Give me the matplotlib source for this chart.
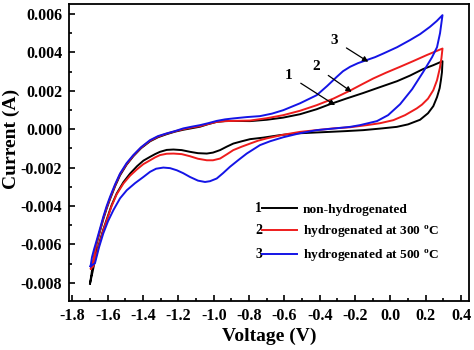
import matplotlib
matplotlib.use("Agg")
import matplotlib.pyplot as plt
from matplotlib.ticker import MultipleLocator, FormatStrFormatter

plt.rcParams['font.family'] = ['Liberation Serif', 'DejaVu Serif']
plt.rcParams['font.weight'] = 'bold'
plt.rcParams['axes.unicode_minus'] = False
plt.rcParams['mathtext.fontset'] = 'custom'
plt.rcParams['mathtext.rm'] = 'Liberation Serif'
plt.rcParams['mathtext.bf'] = 'Liberation Serif:bold'

# ---- data (Voltage V, Current A): forward scan (-1.7 -> 0.3 V) then reverse scan ----
black_fwd_v = [-1.700, -1.691, -1.683, -1.673, -1.662, -1.643, -1.625, -1.606, -1.587, -1.558, -1.530, -1.493, -1.455, -1.411, -1.360, -1.315, -1.266, -1.219, -1.172, -1.124, -1.077, -1.032, -0.983, -0.936, -0.889, -0.794, -0.700, -0.608, -0.511, -0.417, -0.342, -0.251, -0.155, -0.059, 0.038, 0.111, 0.185, 0.242, 0.295]
black_fwd_i = [-0.00804, -0.00750, -0.00698, -0.00646, -0.00594, -0.00529, -0.00469, -0.00414, -0.00365, -0.00297, -0.00240, -0.00185, -0.00141, -0.00099, -0.00063, -0.00042, -0.00026, -0.00013, -0.00003, 0.00005, 0.00013, 0.00026, 0.00038, 0.00042, 0.00043, 0.00042, 0.00049, 0.00060, 0.00078, 0.00104, 0.00130, 0.00159, 0.00188, 0.00219, 0.00250, 0.00279, 0.00313, 0.00333, 0.00354]
black_rev_v = [0.292, 0.286, 0.279, 0.264, 0.243, 0.213, 0.168, 0.100, 0.036, -0.059, -0.153, -0.251, -0.342, -0.438, -0.530, -0.625, -0.719, -0.794, -0.841, -0.889, -0.926, -0.964, -1.004, -1.039, -1.089, -1.134, -1.181, -1.228, -1.266, -1.304, -1.332, -1.360, -1.398, -1.434, -1.473, -1.511, -1.549, -1.578, -1.605, -1.626, -1.643, -1.660, -1.672, -1.686, -1.700]
black_rev_i = [0.00297, 0.00255, 0.00214, 0.00167, 0.00120, 0.00083, 0.00049, 0.00025, 0.00012, 0.00003, -0.00005, -0.00010, -0.00014, -0.00018, -0.00022, -0.00031, -0.00044, -0.00052, -0.00063, -0.00075, -0.00091, -0.00109, -0.00122, -0.00127, -0.00125, -0.00118, -0.00109, -0.00106, -0.00108, -0.00118, -0.00130, -0.00144, -0.00164, -0.00193, -0.00231, -0.00276, -0.00335, -0.00396, -0.00469, -0.00526, -0.00578, -0.00636, -0.00683, -0.00745, -0.00804]

red_fwd_v = [-1.695, -1.680, -1.662, -1.643, -1.625, -1.606, -1.587, -1.558, -1.530, -1.493, -1.455, -1.411, -1.360, -1.315, -1.266, -1.219, -1.172, -1.124, -1.077, -1.032, -0.983, -0.936, -0.889, -0.794, -0.700, -0.606, -0.511, -0.417, -0.323, -0.228, -0.160, -0.097, -0.025, 0.055, 0.128, 0.206, 0.253, 0.295]
red_fwd_i = [-0.00726, -0.00677, -0.00589, -0.00526, -0.00464, -0.00409, -0.00360, -0.00292, -0.00234, -0.00182, -0.00138, -0.00096, -0.00060, -0.00039, -0.00023, -0.00011, 0.00000, 0.00009, 0.00016, 0.00027, 0.00038, 0.00042, 0.00043, 0.00045, 0.00057, 0.00073, 0.00096, 0.00125, 0.00159, 0.00201, 0.00234, 0.00264, 0.00294, 0.00325, 0.00354, 0.00386, 0.00404, 0.00420]
red_rev_v = [0.289, 0.280, 0.264, 0.243, 0.213, 0.179, 0.149, 0.083, 0.017, -0.059, -0.134, -0.228, -0.323, -0.417, -0.511, -0.606, -0.700, -0.749, -0.794, -0.841, -0.889, -0.924, -0.964, -1.004, -1.039, -1.089, -1.134, -1.181, -1.228, -1.266, -1.304, -1.332, -1.360, -1.398, -1.434, -1.473, -1.511, -1.549, -1.578, -1.605, -1.626, -1.643, -1.663, -1.681, -1.695]
red_rev_i = [0.00370, 0.00318, 0.00255, 0.00203, 0.00159, 0.00128, 0.00108, 0.00073, 0.00047, 0.00031, 0.00021, 0.00010, 0.00004, -0.00005, -0.00014, -0.00029, -0.00048, -0.00060, -0.00075, -0.00091, -0.00109, -0.00130, -0.00153, -0.00162, -0.00162, -0.00154, -0.00141, -0.00130, -0.00127, -0.00128, -0.00135, -0.00147, -0.00162, -0.00182, -0.00209, -0.00242, -0.00283, -0.00339, -0.00401, -0.00474, -0.00531, -0.00584, -0.00651, -0.00714, -0.00726]

blue_fwd_v = [-1.697, -1.689, -1.677, -1.662, -1.643, -1.625, -1.606, -1.587, -1.558, -1.530, -1.493, -1.455, -1.411, -1.360, -1.315, -1.266, -1.219, -1.172, -1.124, -1.077, -1.032, -0.983, -0.936, -0.889, -0.813, -0.738, -0.670, -0.606, -0.511, -0.417, -0.359, -0.304, -0.268, -0.228, -0.183, -0.134, -0.087, -0.040, 0.038, 0.111, 0.168, 0.224, 0.262, 0.295]
blue_fwd_i = [-0.00714, -0.00667, -0.00625, -0.00578, -0.00516, -0.00457, -0.00401, -0.00353, -0.00287, -0.00231, -0.00177, -0.00135, -0.00094, -0.00057, -0.00036, -0.00022, -0.00010, 0.00004, 0.00013, 0.00021, 0.00031, 0.00043, 0.00051, 0.00056, 0.00063, 0.00068, 0.00081, 0.00099, 0.00135, 0.00177, 0.00224, 0.00272, 0.00302, 0.00325, 0.00344, 0.00360, 0.00375, 0.00394, 0.00427, 0.00464, 0.00495, 0.00533, 0.00563, 0.00594]
blue_rev_v = [0.281, 0.264, 0.236, 0.185, 0.123, 0.055, -0.013, -0.076, -0.172, -0.228, -0.325, -0.417, -0.511, -0.606, -0.681, -0.738, -0.813, -0.862, -0.908, -0.947, -0.983, -1.021, -1.049, -1.089, -1.134, -1.173, -1.209, -1.247, -1.285, -1.326, -1.360, -1.398, -1.445, -1.492, -1.530, -1.568, -1.598, -1.625, -1.649, -1.672, -1.697]
blue_rev_i = [0.00500, 0.00427, 0.00375, 0.00297, 0.00208, 0.00130, 0.00073, 0.00042, 0.00021, 0.00012, 0.00003, -0.00005, -0.00021, -0.00042, -0.00063, -0.00083, -0.00127, -0.00162, -0.00196, -0.00229, -0.00257, -0.00271, -0.00275, -0.00268, -0.00249, -0.00229, -0.00214, -0.00203, -0.00200, -0.00206, -0.00222, -0.00249, -0.00281, -0.00318, -0.00360, -0.00422, -0.00479, -0.00543, -0.00615, -0.00698, -0.00714]

labels = ['non-hydrogenated', 'hydrogenated at 300 $^{\\mathbf{o}}$C', 'hydrogenated at 500 $^{\\mathbf{o}}$C']
numbers = ['1', '2', '3']
colors = ['black', '#ee1c1c', '#1414e6']

x_ticks = [-1.8, -1.6, -1.4, -1.2, -1.0, -0.8, -0.6, -0.4, -0.2, 0.0, 0.2, 0.4]
y_ticks = [-0.008, -0.006, -0.004, -0.002, 0.000, 0.002, 0.004, 0.006]

fig = plt.figure(figsize=(4.74, 3.5), dpi=100)
ax = fig.add_axes([69/474, 1-301/350, 400/474, 297/350])

series = [(black_fwd_v + black_rev_v, black_fwd_i + black_rev_i),
          (red_fwd_v + red_rev_v, red_fwd_i + red_rev_i),
          (blue_fwd_v + blue_rev_v, blue_fwd_i + blue_rev_i)]
handles = []
for (v, i), c, lab in zip(series, colors, labels):
    h, = ax.plot(v, i, color=c, lw=1.4, label=lab, solid_joinstyle='round')
    handles.append(h)

ax.set_xlim(-1.819, 0.445)
ax.set_ylim(-0.00895, 0.00652)
ax.set_xticks(x_ticks)
ax.set_yticks(y_ticks)
ax.xaxis.set_major_formatter(FormatStrFormatter('%.1f'))
ax.yaxis.set_major_formatter(FormatStrFormatter('%.3f'))
ax.xaxis.set_minor_locator(MultipleLocator(0.1))
ax.yaxis.set_minor_locator(MultipleLocator(0.001))
ax.tick_params(which='both', direction='in', top=False, right=False, labelsize=11.5, width=1.2)
ax.tick_params(which='major', length=4.5, pad=5)
ax.tick_params(which='minor', length=2.5)
for sp in ax.spines.values():
    sp.set_linewidth(1.3)
for lbl in ax.get_xticklabels() + ax.get_yticklabels():
    lbl.set_fontweight('bold')

ax.set_xlabel('Voltage (V)', fontsize=14, fontweight='bold', labelpad=3)
ax.set_ylabel('Current (A)', fontsize=14, fontweight='bold')
ax.yaxis.set_label_coords(-0.122, 0.545)

# annotations with arrows
ann = [('1', (-0.313, 0.00125), (-0.578, 0.00281)),
       ('2', (-0.219, 0.00194), (-0.421, 0.00325)),
       ('3', (-0.125, 0.00351), (-0.319, 0.00464))]
for t, xy, xyt in ann:
    ax.annotate(t, xy=xy, xytext=xyt, fontsize=11, fontweight='bold', ha='center', va='center',
                arrowprops=dict(arrowstyle='-|>', color='black', lw=0.9, mutation_scale=8,
                                shrinkA=5, shrinkB=0))

leg = ax.legend(handles=handles, labels=labels, loc='upper left', bbox_to_anchor=(0.4825, 0.328),
                frameon=False, fontsize=9.6, handlelength=2.6, handletextpad=0.45,
                labelspacing=0.6, borderpad=0, borderaxespad=0)
for t in leg.get_texts():
    t.set_fontweight('bold')

fig.canvas.draw()
inv = ax.transAxes.inverted()
for h, n in zip(leg.legend_handles, numbers):
    bb = h.get_window_extent(fig.canvas.get_renderer())
    (x0, y0) = inv.transform((bb.x0, (bb.y0 + bb.y1) / 2))
    ax.text(x0, y0, n, transform=ax.transAxes, ha='right', va='center', fontsize=10, fontweight='bold')

fig.savefig('out.png', dpi=100, facecolor='white')
